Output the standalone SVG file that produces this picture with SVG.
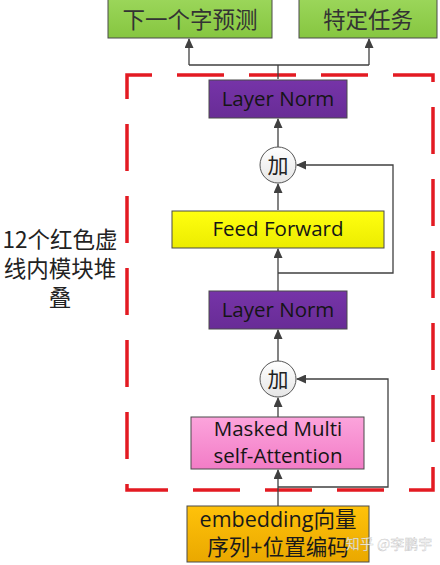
<svg xmlns="http://www.w3.org/2000/svg" width="440" height="565" viewBox="0 0 440 565">
<style>
.box{stroke:#4a4a4a;stroke-width:1}
.en{font-family:"Open Sans","Noto Sans",sans-serif;font-size:20.5px;fill:#151515;text-anchor:middle}
.cn{font-family:"Noto Sans CJK SC",sans-serif;font-size:22.5px;fill:#333;text-anchor:middle}
.mix{font-family:"Open Sans","Noto Sans CJK SC",sans-serif;font-size:21.5px;fill:#1a1a1a;text-anchor:middle}
.conn{stroke:#404040;stroke-width:1.3;fill:none}
.add{fill:url(#gCircle);stroke:#555;stroke-width:1}
.addt{font-family:"Noto Sans CJK SC",sans-serif;font-size:21px;fill:#222;text-anchor:middle}
.lbl{font-family:"Noto Sans CJK SC",sans-serif;font-size:22.5px;fill:#222;text-anchor:middle}
</style>
<defs>
<linearGradient id="gGreen" x1="0" y1="0" x2="0" y2="1"><stop offset="0" stop-color="#9bd65a"/><stop offset="1" stop-color="#86c640"/></linearGradient>
<linearGradient id="gPurple" x1="0" y1="0" x2="0" y2="1"><stop offset="0" stop-color="#7634a8"/><stop offset="1" stop-color="#682c96"/></linearGradient>
<linearGradient id="gYellow" x1="0" y1="0" x2="0" y2="1"><stop offset="0" stop-color="#ffff10"/><stop offset="1" stop-color="#ecec00"/></linearGradient>
<linearGradient id="gPink" x1="0" y1="0" x2="0" y2="1"><stop offset="0" stop-color="#fca4dc"/><stop offset="1" stop-color="#f27cc6"/></linearGradient>
<linearGradient id="gOrange" x1="0" y1="0" x2="0" y2="1"><stop offset="0" stop-color="#ffc20a"/><stop offset="1" stop-color="#eaa800"/></linearGradient>
<linearGradient id="gCircle" x1="0" y1="0" x2="0" y2="1"><stop offset="0" stop-color="#ffffff"/><stop offset="1" stop-color="#e6e6e6"/></linearGradient>
<marker id="arr" markerUnits="userSpaceOnUse" markerWidth="10" markerHeight="9" refX="9" refY="4.5" orient="auto"><path d="M0,0 L10,4.5 L0,9 z" fill="#404040"/></marker>
</defs>

<!-- red dashed container -->
<path d="M127,75 V490 H433 V75 Z" fill="none" stroke="#e31a22" stroke-width="3.5" stroke-dasharray="47 25" stroke-dashoffset="23"/>

<g id="connectors">
<path class="conn" d="M278,79 V65 M189,65 H369"/>
<path class="conn" d="M189,65 V39" marker-end="url(#arr)"/>
<path class="conn" d="M369,65 V39" marker-end="url(#arr)"/>
<path class="conn" d="M278,147 V119" marker-end="url(#arr)"/>
<path class="conn" d="M278,210 V184" marker-end="url(#arr)"/>
<path class="conn" d="M278,291 V249" marker-end="url(#arr)"/>
<path class="conn" d="M278,273 H393 V165 H297" marker-end="url(#arr)"/>
<path class="conn" d="M278,361 V330" marker-end="url(#arr)"/>
<path class="conn" d="M278,417 V398" marker-end="url(#arr)"/>
<path class="conn" d="M278,506 V470" marker-end="url(#arr)"/>
<path class="conn" d="M278,487 H388 V379 H297" marker-end="url(#arr)"/>
</g>

<g id="next-char">
<rect class="box" x="108" y="-1" width="164" height="39" fill="url(#gGreen)"/>
<text class="cn" x="190" y="28">下一个字预测</text>
</g>
<g id="task">
<rect class="box" x="299" y="-1" width="138" height="39" fill="url(#gGreen)"/>
<text class="cn" x="368" y="28">特定任务</text>
</g>

<g id="layernorm1">
<rect class="box" x="209" y="80" width="138" height="38" fill="url(#gPurple)"/>
<text class="en" x="278" y="106">Layer Norm</text>
</g>
<g id="add1">
<circle class="add" cx="278" cy="165" r="18"/>
<text class="addt" x="278" y="172.5">加</text>
</g>
<g id="feedforward">
<rect class="box" x="172" y="211" width="212" height="37" fill="url(#gYellow)"/>
<text class="en" x="278" y="236">Feed Forward</text>
</g>
<g id="layernorm2">
<rect class="box" x="209" y="291" width="138" height="38" fill="url(#gPurple)"/>
<text class="en" x="278" y="317">Layer Norm</text>
</g>
<g id="add2">
<circle class="add" cx="278" cy="379" r="18"/>
<text class="addt" x="278" y="386.5">加</text>
</g>
<g id="masked-attention">
<rect class="box" x="191" y="417" width="173" height="52" fill="url(#gPink)"/>
<text class="en" x="278" y="436">Masked Multi</text>
<text class="en" x="278" y="463">self-Attention</text>
</g>
<g id="embedding">
<rect class="box" x="187" y="506" width="182" height="56" fill="url(#gOrange)"/>
<text class="mix" x="278" y="527">embedding向量</text>
<text class="mix" x="278" y="555">序列+位置编码</text>
</g>

<g id="label">
<text class="lbl" x="60" y="248">12个红色虚</text>
<text class="lbl" x="60" y="277">线内模块堆</text>
<text class="lbl" x="60" y="306">叠</text>
</g>

<text x="389" y="549" style="font-family:'Noto Sans CJK SC',sans-serif;font-size:14px;fill:#ffffff;fill-opacity:0.85;stroke:#9a9a9a;stroke-width:0.4;stroke-opacity:0.6;text-anchor:middle">知乎 @李鹏宇</text>
</svg>
